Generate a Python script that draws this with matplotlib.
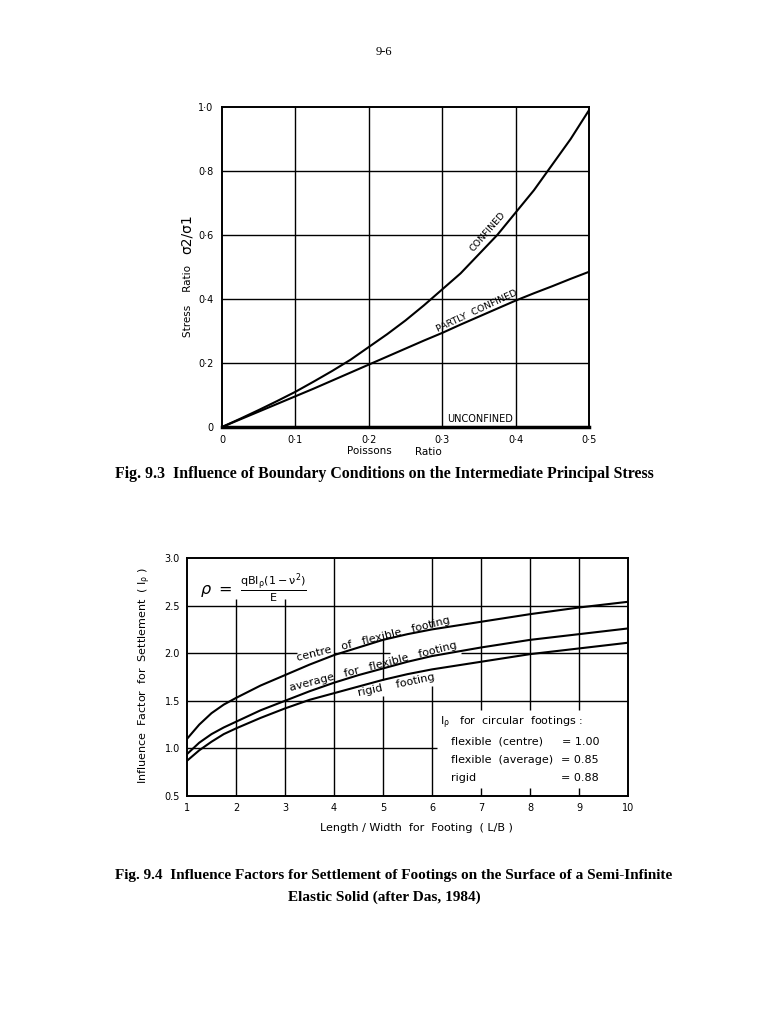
import numpy as np
import matplotlib
matplotlib.use("Agg")
import matplotlib.pyplot as plt

# ---- Fig 9.3 data ----
nu = [0.0, 0.025, 0.05, 0.075, 0.1, 0.125, 0.15, 0.175, 0.2, 0.225, 0.25,
      0.275, 0.3, 0.325, 0.35, 0.375, 0.4, 0.425, 0.45, 0.475, 0.5]
confined = [0.0, 0.026, 0.053, 0.081, 0.11, 0.142, 0.175, 0.21, 0.25, 0.29, 0.333,
            0.38, 0.43, 0.48, 0.54, 0.60, 0.67, 0.74, 0.82, 0.90, 0.99]
partly = [0.0, 0.024, 0.048, 0.072, 0.096, 0.12, 0.145, 0.17, 0.195, 0.22, 0.245,
          0.27, 0.294, 0.32, 0.345, 0.37, 0.395, 0.418, 0.44, 0.463, 0.485]
unconfined = [0.0] * len(nu)
x1_ticks = [0, 0.1, 0.2, 0.3, 0.4, 0.5]
x1_labels = ["0", "0·1", "0·2", "0·3", "0·4", "0·5"]
y1_ticks = [0, 0.2, 0.4, 0.6, 0.8, 1.0]
y1_labels = ["0", "0·2", "0·4", "0·6", "0·8", "1·0"]

# ---- Fig 9.4 data ----
lb = [1, 1.25, 1.5, 1.75, 2, 2.5, 3, 3.5, 4, 4.5, 5, 5.5, 6, 7, 8, 9, 10]
centre = [1.10, 1.25, 1.37, 1.46, 1.53, 1.66, 1.77, 1.88, 1.98, 2.06, 2.14,
          2.20, 2.25, 2.33, 2.41, 2.48, 2.54]
average = [0.94, 1.06, 1.15, 1.22, 1.28, 1.40, 1.50, 1.60, 1.69, 1.77, 1.84,
           1.91, 1.97, 2.06, 2.14, 2.20, 2.26]
rigid = [0.87, 0.98, 1.07, 1.15, 1.21, 1.32, 1.42, 1.51, 1.58, 1.65, 1.72,
         1.78, 1.83, 1.91, 1.99, 2.05, 2.11]
x2_ticks = list(range(1, 11))
y2_ticks = [0.5, 1.0, 1.5, 2.0, 2.5, 3.0]
circ_names = ["flexible  (centre)", "flexible  (average)", "rigid"]
circ_vals = ["= 1.00", "= 0.85", "= 0.88"]

SANS = "DejaVu Sans"
SERIF = "Liberation Serif"

fig = plt.figure(figsize=(7.68, 10.24), dpi=100)
fig.patch.set_facecolor("white")

fig.text(0.5, 1 - 52 / 1024, "9-6", ha="center", va="center",
         fontsize=9, family=SERIF)

# ================= Fig 9.3 =================
ax1 = fig.add_axes([222 / 768, 1 - 427 / 1024, 367 / 768, 320 / 1024])
ax1.set_xlim(0, 0.5)
ax1.set_ylim(0, 1.0)
for v in x1_ticks[1:-1]:
    ax1.axvline(v, color="black", lw=1.0)
for v in y1_ticks[1:-1]:
    ax1.axhline(v, color="black", lw=1.0)
ax1.plot(nu, confined, color="black", lw=1.5)
ax1.plot(nu, partly, color="black", lw=1.5)
ax1.plot(nu, unconfined, color="black", lw=2.5, clip_on=False)
for s in ax1.spines.values():
    s.set_linewidth(1.4)
ax1.set_xticks(x1_ticks)
ax1.set_xticklabels(x1_labels, family=SANS, fontsize=7)
ax1.set_yticks(y1_ticks)
ax1.set_yticklabels(y1_labels, family=SANS, fontsize=7)
ax1.tick_params(length=0, pad=6)
ax1.text(0.362, 0.61, "CONFINED", rotation=49, ha="center", va="center",
         fontsize=6.8, family=SANS)
ax1.text(0.347, 0.362, "PARTLY  CONFINED", rotation=25, ha="center", va="center",
         fontsize=6.8, family=SANS)
ax1.text(0.351, 0.008, "UNCONFINED", ha="center", va="bottom",
         fontsize=7, family=SANS)
fig.text(347 / 768, 1 - 451 / 1024, "Poissons", ha="left", va="center",
         fontsize=7.5, family=SANS)
fig.text(415 / 768, 1 - 452 / 1024, "Ratio", ha="left", va="center",
         fontsize=7.5, family=SANS)
fig.text(188 / 768, 1 - 301 / 1024, "Stress    Ratio", rotation=90,
         ha="center", va="center", fontsize=7.5, family=SANS)
fig.text(187 / 768, 1 - 234 / 1024, "σ2/σ1", rotation=90,
         ha="center", va="center", fontsize=10, family=SANS)

fig.text(384 / 768, 1 - 474 / 1024,
         "Fig. 9.3  Influence of Boundary Conditions on the Intermediate Principal Stress",
         ha="center", va="center", fontsize=11.4, weight="bold", family=SERIF)

# ================= Fig 9.4 =================
ax2 = fig.add_axes([187 / 768, 1 - 796 / 1024, 441 / 768, 238 / 1024])
ax2.set_xlim(1, 10)
ax2.set_ylim(0.5, 3.0)
gw = 1.0
# partial grid lines as drawn on the original
ax2.hlines(2.5, 1, 10, color="black", lw=gw)
ax2.hlines(1.5, 1, 10, color="black", lw=gw)
ax2.hlines(2.0, 1, 3.25, color="black", lw=gw)
ax2.hlines(2.0, 4.0, 5.15, color="black", lw=gw)
ax2.hlines(2.0, 6.6, 10, color="black", lw=gw)
ax2.hlines(1.0, 1, 6.1, color="black", lw=gw)
ax2.vlines([2, 3], 0.5, 2.57, color="black", lw=gw)
ax2.vlines(4, 0.5, 3.0, color="black", lw=gw)
ax2.vlines(5, 0.5, 1.55, color="black", lw=gw)
ax2.vlines(5, 1.72, 2.15, color="black", lw=gw)
ax2.vlines(6, 2.27, 3.0, color="black", lw=gw)
ax2.vlines(6, 0.5, 1.66, color="black", lw=gw)
ax2.vlines([7, 8, 9], 1.4, 3.0, color="black", lw=gw)
ax2.vlines([7, 8, 9], 0.5, 0.58, color="black", lw=gw)

for ys in (centre, average, rigid):
    ax2.plot(lb, ys, color="black", lw=1.5)
for s in ax2.spines.values():
    s.set_linewidth(1.4)
ax2.set_xticks(x2_ticks)
ax2.set_xticklabels([str(v) for v in x2_ticks], family=SANS, fontsize=7)
ax2.set_yticks(y2_ticks)
ax2.set_yticklabels([f"{v:.1f}" for v in y2_ticks], family=SANS, fontsize=7)
ax2.tick_params(length=0, pad=5)

ax2.text(4.8, 2.15, "centre   of   flexible   footing", rotation=14,
         ha="center", va="center", fontsize=8, family=SANS)
ax2.text(4.8, 1.86, "average   for   flexible   footing", rotation=14.5,
         ha="center", va="center", fontsize=8, family=SANS)
ax2.text(5.27, 1.67, "rigid    footing", rotation=12,
         ha="center", va="center", fontsize=8, family=SANS)

fig.text(253 / 768, 1 - 588 / 1024,
         r"$\rho\ =\ \frac{\mathsf{qBI_{\rho}(1-\nu^2)}}{\mathsf{E}}$",
         ha="center", va="center", fontsize=11.5)

fig.text(440 / 768, 1 - 723 / 1024,
         r"$\mathsf{I_{\rho}}$   for  circular  footings :",
         ha="left", va="center", fontsize=8, family=SANS)
for i, (nm, vl) in enumerate(zip(circ_names, circ_vals)):
    yy = 1 - (742 + 18 * i) / 1024
    fig.text(451 / 768, yy, nm, ha="left", va="center", fontsize=8, family=SANS)
    fig.text(599 / 768, yy, vl, ha="right", va="center", fontsize=8, family=SANS)

fig.text(145 / 768, 1 - 675 / 1024, r"Influence  Factor  for  Settlement  ( $\mathsf{I_{\rho}}$ )",
         rotation=90, ha="center", va="center", fontsize=8, family=SANS)
fig.text(416 / 768, 1 - 828 / 1024, "Length / Width  for  Footing  ( L/B )",
         ha="center", va="center", fontsize=8, family=SANS)

fig.text(394 / 768, 1 - 876 / 1024,
         "Fig. 9.4  Influence Factors for Settlement of Footings on the Surface of a Semi-Infinite",
         ha="center", va="center", fontsize=11, weight="bold", family=SERIF)
fig.text(384 / 768, 1 - 897 / 1024, "Elastic Solid (after Das, 1984)",
         ha="center", va="center", fontsize=11, weight="bold", family=SERIF)

fig.savefig("out.png", dpi=100, facecolor="white")
